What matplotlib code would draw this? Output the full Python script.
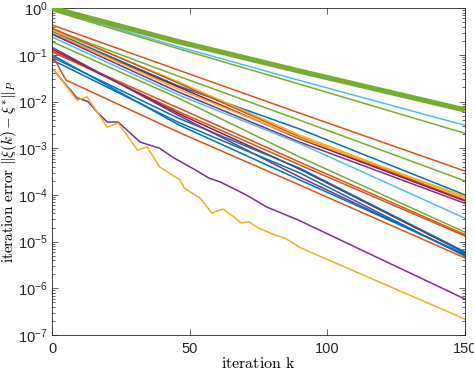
import numpy as np
import matplotlib
matplotlib.use('Agg')
import matplotlib.pyplot as plt
from matplotlib.ticker import LogLocator, NullFormatter

plt.rcParams['mathtext.fontset'] = 'cm'
plt.rcParams['font.family'] = ['Liberation Sans', 'DejaVu Sans']

# MATLAB default colour order
blue = '#0072BD'
orange = '#D95319'
yellow = '#EDB120'
purple = '#7E2F8E'
green = '#77AC30'
lightblue = '#4DBEEE'
darkred = '#A2142F'

# knots: iteration k and log10 of the error
k_knots = [0, 46, 90, 150]

straight_lines = [
    # (colour, log10 error at k = 0, 46, 90, 150)
    (lightblue, [-0.03, -0.83, -1.55, -2.51]),
    (green, [-0.05, -0.87, -1.63, -2.68]),
    (orange, [-0.36, -1.33, -2.25, -3.49]),
    (green, [-0.45, -1.46, -2.40, -3.70]),
    (blue, [-0.50, -1.67, -2.59, -4.00]),
    (yellow, [-0.47, -1.58, -2.72, -4.07]),
    (orange, [-0.43, -1.61, -2.76, -4.11]),
    (darkred, [-0.54, -1.69, -2.80, -4.13]),
    (purple, [-0.56, -1.80, -2.87, -4.18]),
    (yellow, [-0.52, -1.74, -2.78, -4.03]),
    (lightblue, [-0.62, -1.86, -2.90, -4.50]),
    (green, [-0.72, -1.93, -3.19, -4.80]),
    (orange, [-0.94, -2.14, -3.30, -4.85]),
    (orange, [-0.92, -2.22, -3.36, -4.88]),
    (darkred, [-0.88, -2.26, -3.45, -5.24]),
    (blue, [-1.05, -2.36, -3.43, -5.22]),
    (purple, [-0.84, -2.30, -3.62, -5.29]),
    (blue, [-1.11, -2.45, -3.53, -5.31]),
    (blue, [-1.00, -2.50, -3.68, -5.27]),
]

# thick green band
band_log = [0.0, -0.72, -1.35, -2.18]

# lower orange line with a fast first drop
orange_low_k = [0, 5, 46, 90, 150]
orange_low_log = [-1.00, -1.54, -2.66, -3.79, -5.35]

# oscillating purple line
purple_k = [0, 9, 13, 16.4, 20, 24, 32, 39, 44, 51, 57, 61, 70.5, 78, 89.5, 150]
purple_log = [-1.29, -1.92, -2.00, -2.23, -2.44, -2.44, -2.87, -3.00, -3.20,
              -3.43, -3.64, -3.72, -4.00, -4.26, -4.54, -6.23]

# oscillating yellow line
yellow_k = [0, 3, 9, 12.7, 20, 24, 31, 34.5, 39, 43, 46.5, 48, 54, 58, 62, 66,
            68.7, 71.6, 75, 81, 84.7, 90.5, 150]
yellow_log = [-1.29, -1.50, -1.97, -1.90, -2.55, -2.46, -3.04, -2.97, -3.40,
              -3.55, -3.68, -3.85, -4.08, -4.39, -4.30, -4.47, -4.60, -4.58,
              -4.71, -4.86, -4.93, -5.14, -6.66]

fig = plt.figure(figsize=(4.74, 3.70), dpi=100)
ax = fig.add_axes([0.110, 0.0946, 0.871, 0.8834])

lw = 1.1
ax.plot(k_knots, 10.0 ** np.array(band_log), color=green, linewidth=3.8,
        solid_capstyle='butt', zorder=3)
for c, vals in straight_lines:
    ax.plot(k_knots, 10.0 ** np.array(vals), color=c, linewidth=lw)
ax.plot(orange_low_k, 10.0 ** np.array(orange_low_log), color=orange, linewidth=lw)
ax.plot(purple_k, 10.0 ** np.array(purple_log), color=purple, linewidth=lw)
ax.plot(yellow_k, 10.0 ** np.array(yellow_log), color=yellow, linewidth=lw)

ax.set_yscale('log')
ax.set_xlim(0, 150)
ax.set_ylim(1e-7, 1)
ax.set_xticks([0, 50, 100, 150])
ax.set_yticks([10.0 ** e for e in range(-7, 1)])
ax.yaxis.set_minor_locator(LogLocator(base=10, subs=np.arange(2, 10), numticks=20))
ax.yaxis.set_minor_formatter(NullFormatter())

axis_col = '#262626'
for s in ax.spines.values():
    s.set_color(axis_col)
    s.set_linewidth(0.6)
ax.tick_params(which='both', direction='in', top=True, right=True,
               colors=axis_col, labelcolor='#262626', labelsize=10.5, width=0.5)
ax.tick_params(which='major', length=4)
ax.tick_params(which='minor', length=2)
ax.tick_params(axis='x', pad=5)

ax.set_xlabel(r'$\mathrm{iteration\ k}$', fontsize=11.5, labelpad=0)
ax.set_ylabel(r'$\mathrm{iteration\ error}\ \|\xi(k)-\xi^{*}\|_{P}$', fontsize=11)
ax.yaxis.set_label_coords(-0.08, 0.5)

fig.savefig('out.png', dpi=100)
